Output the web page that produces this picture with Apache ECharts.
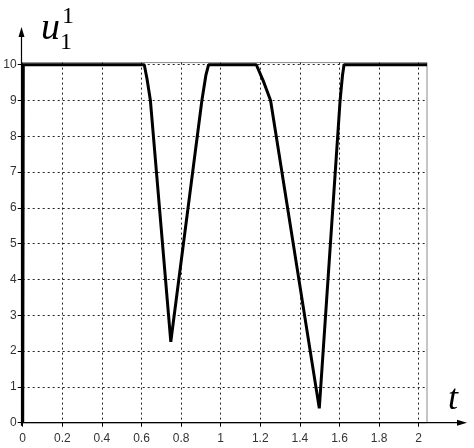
<!DOCTYPE html>
<html>
<head>
<meta charset="utf-8">
<script src="https://cdn.jsdelivr.net/npm/echarts@6/dist/echarts.min.js"></script>
<style>html,body{margin:0;padding:0;background:#fff}#c{width:474px;height:448px}</style>
</head>
<body>
<div id="c"></div>
<script>
// Data
const tValues = [0, 0.003, 0.614, 0.628, 0.645, 0.748, 0.905, 0.925, 0.939, 1.18, 1.215, 1.252, 1.498, 1.603, 1.615, 1.623, 2.042];
const uValues = [0, 10, 10, 9.6, 9, 2.26, 9, 9.7, 10, 10, 9.55, 9, 0.4, 9, 9.7, 10, 10];
const xTickLabels = ['0', '0.2', '0.4', '0.6', '0.8', '1', '1.2', '1.4', '1.6', '1.8', '2'];
const yTickLabels = ['0', '1', '2', '3', '4', '5', '6', '7', '8', '9', '10'];

const X_MIN = 0, X_MAX = 2.042, Y_MIN = 0, Y_MAX = 10.06;
const G_LEFT = 22.7, G_TOP = 62.6, G_W = 404.3, G_H = 360.1;

const chart = echarts.init(document.getElementById('c'), null, {renderer: 'canvas'});
const pts = tValues.map((t, i) => [t, uValues[i]]);
const axisY = G_TOP + G_H; // pixel of u=0

chart.setOption({
  animation: false,
  backgroundColor: '#fff',
  grid: {left: G_LEFT, top: G_TOP, width: G_W, height: G_H, show: true, borderColor: '#8a8a8a', borderWidth: 1, backgroundColor: 'transparent'},
  xAxis: {
    type: 'value', min: X_MIN, max: X_MAX, interval: 0.2,
    axisLine: {show: false},
    axisTick: {show: true, length: 4, lineStyle: {color: '#000'}, customValues: xTickLabels.map(Number)},
    axisLabel: {color: '#333', fontFamily: 'Arial, Liberation Sans', fontSize: 12, margin: 10,
      customValues: xTickLabels.map(Number), formatter: v => xTickLabels.find(s => Math.abs(Number(s) - v) < 1e-6) || ''},
    splitLine: {show: true, lineStyle: {color: '#222', type: [2, 3], width: 1}}
  },
  yAxis: {
    type: 'value', min: Y_MIN, max: Y_MAX, interval: 1,
    axisLine: {show: false},
    axisTick: {show: true, length: 5, lineStyle: {color: '#000'}, customValues: yTickLabels.map(Number)},
    axisLabel: {color: '#333', fontFamily: 'Arial, Liberation Sans', fontSize: 12, margin: 6,
      customValues: yTickLabels.map(Number)},
    splitLine: {show: true, lineStyle: {color: '#222', type: [2, 3], width: 1}}
  },
  series: [{
    type: 'line', data: pts, showSymbol: false, symbol: 'none',
    lineStyle: {color: '#000', width: 3}, z: 5
  }],
  graphic: [
    // y axis with arrow
    {type: 'line', shape: {x1: 21.5, y1: axisY + 3, x2: 21.5, y2: 32}, style: {stroke: '#000', lineWidth: 1.2}, z: 10},
    {type: 'polygon', shape: {points: [[21.5, 27], [18.5, 37], [24.5, 37]]}, style: {fill: '#000'}, z: 10},
    // x axis with arrow
    {type: 'line', shape: {x1: 21, y1: axisY, x2: 460, y2: axisY}, style: {stroke: '#000', lineWidth: 1.2}, z: 10},
    {type: 'polygon', shape: {points: [[467, axisY], [457, axisY - 3], [457, axisY + 3]]}, style: {fill: '#000'}, z: 10},
    // axis names
    {type: 'text', left: 41, top: 10, style: {text: 'u', font: 'italic 38px "Liberation Serif", "DejaVu Serif", serif', fill: '#000'}, z: 10},
    {type: 'text', left: 62, top: 5, style: {text: '1', font: '24px "Liberation Serif", "DejaVu Serif", serif', fill: '#000'}, z: 10},
    {type: 'text', left: 60, top: 31, style: {text: '1', font: '24px "Liberation Serif", "DejaVu Serif", serif', fill: '#000'}, z: 10},
    {type: 'text', left: 448, top: 382, style: {text: 't', font: 'italic 36px "Liberation Serif", "DejaVu Serif", serif', fill: '#000'}, z: 10}
  ]
});
</script>
</body>
</html>
